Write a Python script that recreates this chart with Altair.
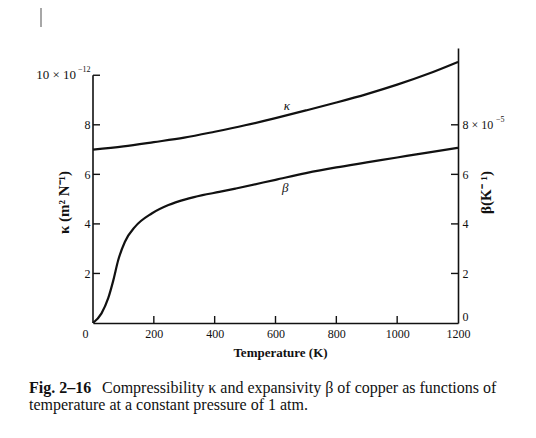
import altair as alt
import pandas as pd

# ---- data ----
T_kappa = [0, 100, 200, 300, 400, 500, 600, 700, 800, 900, 1000, 1100, 1200]
kappa = [7.0, 7.13, 7.3, 7.48, 7.72, 7.98, 8.27, 8.58, 8.9, 9.24, 9.62, 10.05, 10.54]

T_beta = [0, 28, 50, 67, 83, 105, 138, 193, 248, 304, 360, 415, 470, 600, 700, 800, 900, 1000, 1100, 1200]
beta = [0, 0.39, 1.0, 1.73, 2.54, 3.28, 3.88, 4.42, 4.76, 4.99, 5.16, 5.29, 5.43, 5.78, 6.05, 6.28, 6.48, 6.68, 6.88, 7.07]

x_label_values = [0, 200, 400, 600, 800, 1000, 1200]
x_tick_values = [200, 400, 600, 800, 1000]
left_label_values = [2, 4, 6, 8]
left_tick_values = [2, 4, 6, 8, 10]
right_label_values = [0, 2, 4, 6, 8]
right_tick_values = [2, 4, 6, 8]

left_top_value = [10]
left_top_text = ["10 × 10"]
left_top_exp = ["−12"]
right_top_value = [8]
right_top_exp = ["−5"]

curve_labels = ["κ", "β"]
curve_label_T = [637, 632]
curve_label_v = [8.76, 5.44]

caption_bold = "Fig. 2–16"
caption_line1 = "Compressibility κ and expansivity β of copper as functions of"
caption_line2 = "temperature at a constant pressure of 1 atm."

FONT = "Liberation Serif"
INK = "#111111"
W, H = 365, 275

xs = alt.Scale(domain=[0, 1200], nice=False, zero=False)
ys = alt.Scale(domain=[0, 11.1], nice=False, zero=False)

df_k = pd.DataFrame({"T": T_kappa, "v": kappa})
df_b = pd.DataFrame({"T": T_beta, "v": beta})

x_axis = alt.Axis(
    orient="bottom", values=x_label_values, format="d", ticks=False, grid=False, domain=True,
    domainColor=INK, domainWidth=1.6, labelFont=FONT, labelFontSize=12,
    labelColor=INK, labelPadding=5, labelFlush=False,
    labelOffset={"condition": {"test": "datum.value == 0", "value": -8}, "value": 0},
    title="Temperature (K)", titleFont=FONT, titleFontSize=13, titleFontWeight="bold",
    titleColor=INK, titleX=187, titleY=29, titleBaseline="middle", titleAnchor="start",
    titleAlign="center",
)

left_axis = alt.Axis(
    orient="left", values=left_label_values, ticks=False, grid=False, domain=False,
    labelFont=FONT, labelFontSize=12, labelColor=INK, labelPadding=3,
    title="κ (m² N⁻¹)", titleFont=FONT, titleFontSize=15, titleFontWeight="bold",
    titleColor=INK, titleAngle=270, titleX=-30, titleY=154, titleAlign="center",
    titleBaseline="middle",
)

right_axis = alt.Axis(
    orient="right", values=right_label_values, ticks=False, grid=False, domain=True,
    domainColor=INK, domainWidth=1.6,
    labelFont=FONT, labelFontSize=12, labelColor=INK, labelPadding=4,
    labelExpr="datum.value == 8 ? '8 × 10' : datum.label",
    labelBaseline={"condition": {"test": "datum.value == 0", "value": "bottom"}, "value": "middle"},
    title="β(K⁻ ¹)", titleFont=FONT, titleFontSize=15, titleFontWeight="bold",
    titleColor=INK, titleAngle=270, titleX=27, titleY=144, titleAlign="center",
    titleBaseline="middle",
)

kappa_line = alt.Chart(df_k).mark_line(color=INK, strokeWidth=2.2, interpolate="monotone").encode(
    x=alt.X("T:Q", scale=xs, axis=x_axis),
    y=alt.Y("v:Q", scale=ys, axis=left_axis),
)

beta_line = alt.Chart(df_b).mark_line(color=INK, strokeWidth=2.2, interpolate="monotone").encode(
    x=alt.X("T:Q", scale=xs, axis=None),
    y=alt.Y("v:Q", scale=ys, axis=None),
)

right_axis_layer = alt.Chart(pd.DataFrame({"v": right_tick_values})).mark_rule(
    color=INK, strokeWidth=1.4
).encode(
    y=alt.Y("v:Q", scale=ys, axis=right_axis),
    x=alt.value(W - 7), x2=alt.value(W),
)

left_ticks = alt.Chart(pd.DataFrame({"v": left_tick_values})).mark_rule(
    color=INK, strokeWidth=1.4
).encode(
    y=alt.Y("v:Q", scale=ys, axis=None),
    x=alt.value(0), x2=alt.value(7),
)

x_ticks = alt.Chart(pd.DataFrame({"T": x_tick_values})).mark_rule(
    color=INK, strokeWidth=1.4
).encode(
    x=alt.X("T:Q", scale=xs, axis=None),
    y=alt.value(H), y2=alt.value(H - 7),
)

left_domain = alt.Chart(pd.DataFrame({"a": [0], "b": [10]})).mark_rule(
    color=INK, strokeWidth=1.6
).encode(
    y=alt.Y("a:Q", scale=ys, axis=None), y2="b:Q",
    x=alt.value(0),
)

# top label of the left axis: "10 × 10" with a raised exponent
df_lt = pd.DataFrame({"v": left_top_value, "t": left_top_text, "e": left_top_exp})
left_top = alt.Chart(df_lt).mark_text(
    font=FONT, fontSize=13, color=INK, align="right", baseline="middle"
).encode(x=alt.value(-17), y=alt.Y("v:Q", scale=ys, axis=None), text="t:N")
left_top_e = alt.Chart(df_lt).mark_text(
    font=FONT, fontSize=8, color=INK, align="left", baseline="middle", dy=-5
).encode(x=alt.value(-15), y=alt.Y("v:Q", scale=ys, axis=None), text="e:N")

df_rt = pd.DataFrame({"v": right_top_value, "e": right_top_exp})
right_top_e = alt.Chart(df_rt).mark_text(
    font=FONT, fontSize=8, color=INK, align="left", baseline="middle", dy=-5
).encode(x=alt.value(W + 38), y=alt.Y("v:Q", scale=ys, axis=None), text="e:N")

labels = alt.Chart(pd.DataFrame({"T": curve_label_T, "v": curve_label_v, "t": curve_labels})).mark_text(
    font=FONT, fontSize=13, fontStyle="italic", color=INK, baseline="middle", align="center"
).encode(
    x=alt.X("T:Q", scale=xs, axis=None),
    y=alt.Y("v:Q", scale=ys, axis=None),
    text="t:N",
)

cap_bold = alt.Chart(pd.DataFrame({"t": [caption_bold]})).mark_text(
    font=FONT, fontSize=16, fontWeight="bold", color=INK, align="left", baseline="middle"
).encode(x=alt.value(-64), y=alt.value(340), text="t:N")

cap1 = alt.Chart(pd.DataFrame({"t": [caption_line1]})).mark_text(
    font=FONT, fontSize=16, color=INK, align="left", baseline="middle"
).encode(x=alt.value(9), y=alt.value(340), text="t:N")

cap2 = alt.Chart(pd.DataFrame({"t": [caption_line2]})).mark_text(
    font=FONT, fontSize=16, color=INK, align="left", baseline="middle"
).encode(x=alt.value(-64), y=alt.value(357), text="t:N")

artifact = alt.Chart(pd.DataFrame({"a": [0]})).mark_rule(color="#8a8a8a", strokeWidth=1.5).encode(
    x=alt.value(-52), y=alt.value(-43), y2=alt.value(-21)
)

chart = alt.layer(
    kappa_line, beta_line, right_axis_layer, left_ticks, x_ticks, left_domain,
    left_top, left_top_e, right_top_e,
    labels, cap_bold, cap1, cap2, artifact,
).resolve_scale(x="independent", y="independent").properties(
    width=W, height=H, autosize="none",
    padding={"left": 85, "top": 40, "right": 70, "bottom": 107},
    background="white",
).configure_view(stroke=None)

chart.save("out.html", embed_options={"renderer": "svg", "actions": False})
